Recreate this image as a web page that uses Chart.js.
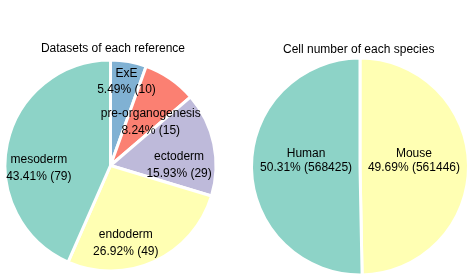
<!DOCTYPE html>
<html>
<head>
<meta charset="utf-8">
<script src="https://cdn.jsdelivr.net/npm/chart.js@4.4.1/dist/chart.umd.min.js"></script>
<style>
  body { margin: 0; background: #fff; }
  #wrap { position: relative; width: 474px; height: 279px; }
  canvas { position: absolute; top: 0; }
</style>
</head>
<body>
<div id="wrap">
  <canvas id="refChart" width="237" height="279" style="left:0"></canvas>
  <canvas id="speciesChart" width="237" height="279" style="left:237px"></canvas>
</div>
<script>
// left pie: datasets per reference (clockwise from top)
const refLabels = ['ExE', 'pre-organogenesis', 'ectoderm', 'endoderm', 'mesoderm'];
const refCounts = [10, 15, 29, 49, 79];

// right pie: cells per species (clockwise from top)
const speciesLabels = ['Mouse', 'Human'];
const speciesCounts = [561446, 568425];

const teal = '#8dd3c7', yellow = '#ffffb3', lavender = '#bebada', salmon = '#fb8072', blue = '#80b1d3';
const FONT = 'Liberation Sans, Arial, sans-serif';

// draws "label\nxx.xx% (n)" inside each slice
// place: [fraction along the arc, fraction of the radius]
const sliceLabels = {
  id: 'sliceLabels',
  afterDatasetsDraw(chart, args, opts) {
    const ctx = chart.ctx;
    const ds = chart.data.datasets[0];
    const total = ds.data.reduce((a, b) => a + b, 0);
    const meta = chart.getDatasetMeta(0);
    ctx.save();
    ctx.font = '12px ' + FONT;
    ctx.fillStyle = '#000';
    ctx.textAlign = 'center';
    ctx.textBaseline = 'middle';
    meta.data.forEach((arc, i) => {
      const p = arc.getProps(['x', 'y', 'startAngle', 'endAngle', 'outerRadius'], true);
      const place = opts.place[i];
      const a = p.startAngle + place[0] * (p.endAngle - p.startAngle);
      const d = place[1] * p.outerRadius;
      const x = p.x + Math.cos(a) * d;
      const y = p.y + Math.sin(a) * d;
      const v = ds.data[i];
      const lines = [chart.data.labels[i], (v / total * 100).toFixed(2) + '% (' + v + ')'];
      lines.forEach((t, k) => {
        ctx.fillText(t, x, y + (k - (lines.length - 1) / 2) * opts.lineHeight);
      });
    });
    ctx.restore();
  }
};

function makePie(id, labels, counts, colors, opt) {
  return new Chart(document.getElementById(id), {
    type: 'pie',
    data: {
      labels: labels,
      datasets: [{
        data: counts,
        backgroundColor: colors,
        borderColor: '#fff',
        borderWidth: 3,
        clip: false
      }]
    },
    options: {
      responsive: false,
      animation: false,
      radius: opt.radius,
      layout: { padding: opt.padding },
      events: [],
      plugins: {
        legend: { display: false },
        tooltip: { enabled: false },
        title: {
          display: true,
          text: opt.title,
          align: opt.titleAlign,
          color: '#000',
          font: { family: FONT, size: 12, weight: 'normal' },
          padding: { top: opt.titleTop, bottom: 0 }
        },
        sliceLabels: { place: opt.place, lineHeight: opt.lineHeight }
      }
    },
    plugins: [sliceLabels]
  });
}

makePie('refChart', refLabels, refCounts, [blue, salmon, lavender, yellow, teal], {
  title: 'Datasets of each reference',
  titleAlign: 'end',
  radius: 105.5,
  padding: { left: 36, right: 52, top: 0, bottom: 3.4 },
  titleTop: 41,
  place: [[0.545, 0.81], [0.78, 0.56], [0.70, 0.65], [0.64, 0.75], [0.41, 0.68]],
  lineHeight: 16.5
});

makePie('speciesChart', speciesLabels, speciesCounts, [yellow, teal], {
  title: 'Cell number of each species',
  titleAlign: 'start',
  radius: 108.5,
  padding: { left: 46, right: 37, top: 0, bottom: 2.7 },
  titleTop: 42.3,
  place: [[0.469, 0.5], [0.537, 0.5]],
  lineHeight: 13.5
});
</script>
</body>
</html>
